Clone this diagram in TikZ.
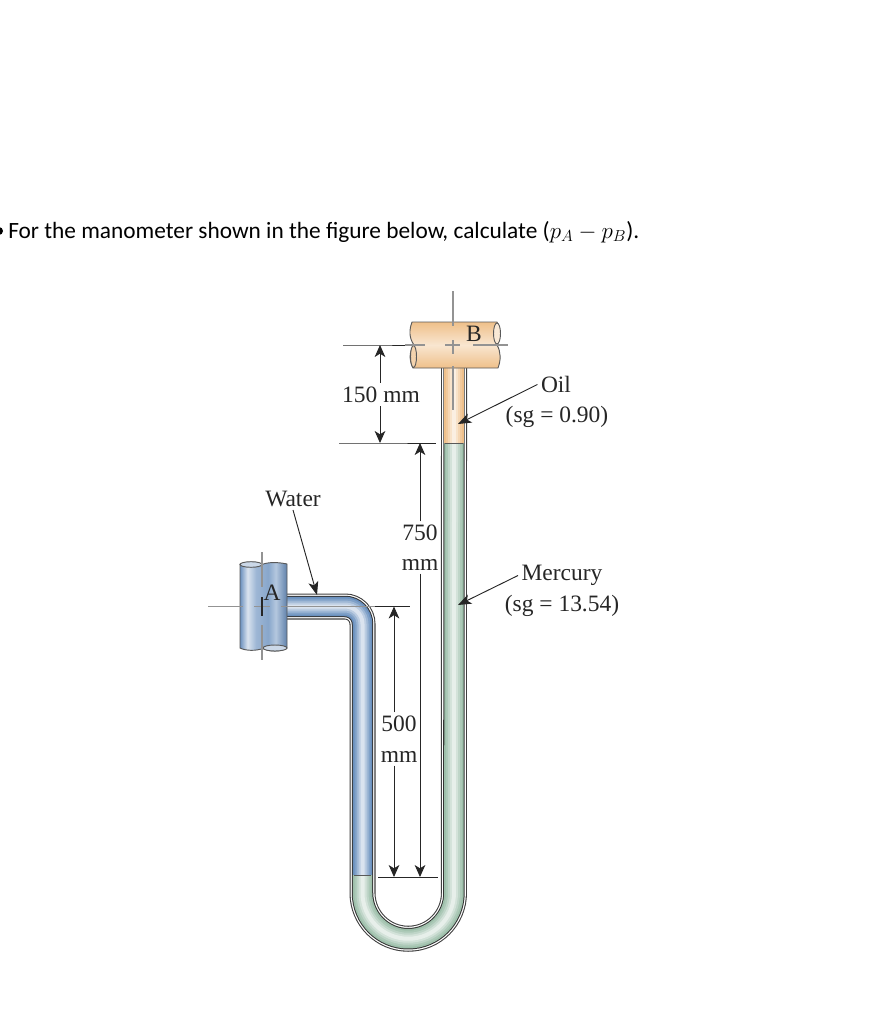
\documentclass[tikz,border=0pt]{standalone}
\usepackage{fontspec}
\setmainfont{Liberation Serif}
\newfontfamily\titlefont{Carlito}
\usetikzlibrary{arrows.meta}

\definecolor{oilcol}{HTML}{EFC08A}
\definecolor{hgcol}{HTML}{9DBFAA}
\definecolor{watercol}{HTML}{6A90BE}
\definecolor{inkcol}{HTML}{262626}

\pgfdeclarehorizontalshading{pipeashade}{100bp}{
	color(0bp)=(watercol); color(25bp)=(watercol); color(33bp)=(white!75!watercol);
	color(42bp)=(white!35!watercol); color(55bp)=(white!20!watercol);
	color(63bp)=(white!50!watercol); color(75bp)=(watercol!90!black); color(100bp)=(watercol)}

\tikzset{
	lbl/.style={font=\fontsize{17.6}{20}\selectfont, text=inkcol, inner sep=2.5pt},
	dimline/.style={draw=inkcol, line width=0.7pt, -{Stealth[length=9pt,width=8pt,inset=2.5pt]}},
	leader/.style={draw=inkcol, line width=0.7pt, -{Stealth[length=10pt,width=7.5pt,inset=2.5pt]}},
	extline/.style={draw=inkcol, line width=0.7pt},
	axisline/.style={draw=gray!85, line width=0.9pt},
	pipeedge/.style={draw=black!65, line width=0.7pt}
}

% Rohrwand und Fluessigkeit als uebereinander liegende Striche
\newcommand{\tubewall}[1]{
	\draw[line width=19.5pt, black!75] #1;
	\draw[line width=17.9pt, white] #1;
	\draw[line width=16.1pt, black!80] #1;
}
\newcommand{\tubefluid}[2]{
	\foreach \w/\m in {14.6/100,12/85,9/65,6/45,3/25} {
		\draw[line width=\w pt, #2!\m!white] #1;
	}
}

\begin{document}
\begin{tikzpicture}[x=0.75pt,y=-0.75pt]
	\useasboundingbox (0,0) rectangle (883,1010);

	% Aufgabentext
	\fill[black] (-1,231) circle(4);
	\node[anchor=west, inner sep=0pt, font=\titlefont\fontsize{17.5}{22}\selectfont] (title) at (8,232)
		{For the manometer shown in the figure below, calculate ($p_A-p_B$).};

	% Rohr
	\tubewall{(285,606.5) -- (345,606.5) .. controls (354.7,606.5) and (362.5,614.3) .. (362.5,624) -- (362.5,893) arc[start angle=180,end angle=360,radius=34.3pt] -- (454,366)}
	\tubefluid{(285,606.5) -- (345,606.5) .. controls (354.7,606.5) and (362.5,614.3) .. (362.5,624) -- (362.5,875)}{watercol}
	\tubefluid{(362.5,875) -- (362.5,893) arc[start angle=180,end angle=360,radius=34.3pt] -- (454,443)}{hgcol}
	\tubefluid{(454,443) -- (454,366)}{oilcol}
	\draw[pipeedge] (354,875) -- (371,875);
	\draw[pipeedge] (445,443) -- (463,443);

	% Leitung B
	\shade[top color=oilcol, bottom color=oilcol, middle color=oilcol!40!white] (412,322) -- (497,322)
		.. controls (500,330) and (500,338) .. (497,345) .. controls (501,352) and (501,360) .. (498,368)
		-- (413,368) .. controls (409,360) and (409,352) .. (414,345) .. controls (409,338) and (409,330) .. (412,322) -- cycle;
	\draw[pipeedge] (412,322) -- (497,322)
		.. controls (500,330) and (500,338) .. (497,345) .. controls (501,352) and (501,360) .. (498,368)
		-- (413,368) .. controls (409,360) and (409,352) .. (414,345) .. controls (409,338) and (409,330) .. (412,322) -- cycle;
	\draw[pipeedge, fill=oilcol!35!white] (497,333.5) ellipse (3.5 and 10.5);
	\draw[pipeedge, fill=oilcol!70!white] (413.5,356.5) ellipse (3 and 11);

	% Leitung A
	\shade[shading=pipeashade] (240,564) .. controls (250,561) and (258,562) .. (262,564.5) .. controls (268,562) and (278,562) .. (287,564)
		-- (287,648) .. controls (280,652) and (270,652) .. (263,648.5) .. controls (256,651) and (246,651) .. (240,648) -- cycle;
	\draw[pipeedge] (240,564) .. controls (250,561) and (258,562) .. (262,564.5) .. controls (268,562) and (278,562) .. (287,564)
		-- (287,648) .. controls (280,652) and (270,652) .. (263,648.5) .. controls (256,651) and (246,651) .. (240,648) -- cycle;
	\draw[pipeedge, fill=watercol!35!white] (251,564.5) ellipse (11 and 2.8);
	\draw[pipeedge, fill=watercol!35!white] (275,648) ellipse (12 and 3);

	% Mittellinien
	\draw[axisline] (453,291) -- (453,326);
	\draw[axisline] (453,340) -- (453,354);
	\draw[axisline] (453,366) -- (453,410);
	\draw[axisline] (405,345) -- (425,345);
	\draw[axisline] (445,345) -- (460,345);
	\draw[axisline] (473,345) -- (508,345);
	\draw[axisline] (262,552) -- (262,587);
	\draw[axisline] (262,625) -- (262,660);
	\draw[axisline] (208,606.5) -- (243,606.5);
	\draw[axisline] (254,606.5) -- (270,606.5);
	\draw[axisline] (281,606.5) -- (375,606.5);
	\draw[inkcol, line width=0.8pt] (262,597) -- (262,616);

	% Beschriftung
	\node[lbl] (labb) at (474,334) {B};
	\node[lbl] (laba) at (272,593) {A};
	\node[lbl] (water) at (293,498.5) {Water};
	\node[lbl] (oil) at (556,384.5) {Oil};
	\node[lbl] (oilsg) at (557,416.5) {(sg = 0.90)};
	\node[lbl] (mercury) at (562,575.5) {Mercury};
	\node[lbl] (mercurysg) at (562,605.5) {(sg = 13.54)};
	\node[lbl] (dimoil) at (381,394.5) {150 mm};
	\node[lbl] (dimhga) at (420,533) {750};
	\node[lbl] (dimhgb) at (420,564.5) {mm};
	\node[lbl] (dimwa) at (399,724) {500};
	\node[lbl] (dimwb) at (399,756.5) {mm};

	% Hilfslinien
	\coordinate (oiltop) at (380,345);
	\coordinate (oilbot) at (380,443);
	\coordinate (hgtop) at (420,443);
	\coordinate (hgbot) at (420,877);
	\coordinate (wtop) at (394,606.5);
	\coordinate (wbot) at (394,877);
	\coordinate (oiltip) at (458,424);
	\coordinate (hgtip) at (458,605);
	\coordinate (watertip) at (317,595);
	\draw[extline] (343,345) -- (oiltop) -- (405,345);
	\draw[extline] (339,443) -- (oilbot) -- (436,443);
	\draw[extline] (378,877) -- (wbot) -- (hgbot) -- (438,877);
	\draw[extline] (375,606.5) -- (wtop) -- (410,606.5);

	% Masspfeile
	\draw[dimline] (dimoil.north -| oiltop) -- (oiltop);
	\draw[dimline] (dimoil.south -| oilbot) -- (oilbot);
	\draw[dimline] (dimhga.north -| hgtop) -- (hgtop);
	\draw[dimline] (dimhgb.south -| hgbot) -- (hgbot);
	\draw[dimline] (dimwa.north -| wtop) -- (wtop);
	\draw[dimline] (dimwb.south -| wbot) -- (wbot);

	% Zeiger
	\draw[leader] (oil.west) -- (oiltip);
	\draw[leader] (mercury.west) -- (hgtip);
	\draw[leader] (water.south) -- (watertip);
\end{tikzpicture}
\end{document}
